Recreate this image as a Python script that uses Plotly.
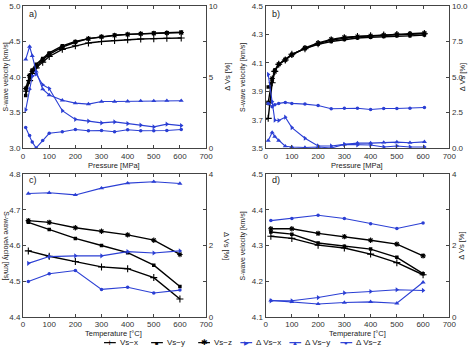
import plotly.graph_objects as go

# ---------------- data ----------------
pressure = [10, 25, 35, 50, 75, 100, 150, 200, 250, 300, 350, 400, 450, 500, 550, 605]
temperature = [20, 100, 200, 300, 400, 500, 600]

# panel a (velocities km/s, anisotropy %)
a_vsx = [3.80, 3.95, 4.05, 4.13, 4.21, 4.29, 4.39, 4.44, 4.48, 4.50, 4.515, 4.525, 4.535, 4.54, 4.545, 4.55]
a_vsy = [3.74, 4.00, 4.10, 4.18, 4.26, 4.34, 4.44, 4.50, 4.54, 4.57, 4.59, 4.60, 4.61, 4.62, 4.625, 4.63]
a_vsz = [3.84, 4.02, 4.08, 4.15, 4.24, 4.32, 4.42, 4.49, 4.54, 4.565, 4.585, 4.60, 4.61, 4.615, 4.62, 4.625]
a_dx = [2.7, 4.15, 5.06, 5.22, 4.46, 4.19, 2.64, 2.03, 1.91, 1.78, 1.85, 1.73, 1.62, 1.50, 1.69, 1.59]
a_dy = [6.24, 7.15, 6.5, 5.4, 4.15, 3.74, 3.37, 3.17, 3.10, 3.28, 3.28, 3.30, 3.32, 3.32, 3.34, 3.34]
a_dz = [1.46, 0.89, 0.43, 0.02, 0.55, 1.05, 1.16, 1.32, 1.23, 1.25, 1.16, 1.30, 1.23, 1.23, 1.25, 1.32]

# panel b
b_vsx = [3.71, 3.96, 4.04, 4.09, 4.12, 4.16, 4.20, 4.235, 4.26, 4.275, 4.285, 4.29, 4.295, 4.30, 4.30, 4.305]
b_vsy = [3.93, 3.97, 4.05, 4.09, 4.125, 4.16, 4.20, 4.23, 4.25, 4.265, 4.275, 4.28, 4.285, 4.29, 4.29, 4.295]
b_vsz = [3.82, 3.99, 4.04, 4.09, 4.12, 4.155, 4.205, 4.24, 4.265, 4.28, 4.285, 4.29, 4.295, 4.30, 4.305, 4.31]
b_dx = [5.19, 3.27, 1.97, 1.95, 2.18, 1.45, 0.70, 0.16, 0.16, 0.27, 0.23, 0.23, 0.09, 0.16, 0.09, 0.09]
b_dy = [0.54, 1.11, 0.82, 0.54, 0.14, 0.09, 0.05, 0.09, 0.02, 0.27, 0.36, 0.36, 0.41, 0.43, 0.39, 0.45]
b_dz = [3.15, 2.92, 3.05, 3.15, 3.22, 3.15, 3.10, 3.00, 2.77, 2.81, 2.81, 2.72, 2.79, 2.79, 2.81, 2.86]

# panel c
c_vsx = [4.585, 4.57, 4.555, 4.54, 4.535, 4.51, 4.45]
c_vsy = [4.665, 4.645, 4.62, 4.60, 4.58, 4.545, 4.485]
c_vsz = [4.67, 4.665, 4.65, 4.64, 4.63, 4.615, 4.575]
c_dx = [1.50, 1.69, 1.71, 1.71, 1.83, 1.79, 1.85]
c_dy = [3.46, 3.48, 3.42, 3.61, 3.75, 3.79, 3.74]
c_dz = [0.99, 1.21, 1.30, 0.77, 0.83, 0.67, 0.75]

# panel d
d_vsx = [4.326, 4.320, 4.301, 4.293, 4.276, 4.252, 4.218]
d_vsy = [4.338, 4.332, 4.307, 4.298, 4.290, 4.267, 4.221]
d_vsz = [4.347, 4.347, 4.334, 4.325, 4.315, 4.304, 4.271]
d_dx = [0.45, 0.45, 0.54, 0.67, 0.71, 0.76, 0.74]
d_dy = [0.46, 0.42, 0.36, 0.40, 0.42, 0.38, 0.97]
d_dz = [2.70, 2.76, 2.85, 2.76, 2.61, 2.48, 2.63]

names = ["Vs−x", "Vs−y", "Vs−z", "Δ Vs−x", "Δ Vs−y", "Δ Vs−z"]
glyphs = ["+", "■", "✱", "▶", "▲", "●"]

# ---------------- styling ----------------
BLACK = "#000000"
BLUE = "#2b3fd4"
FONT = "Liberation Sans, Arial, sans-serif"
W, H = 474, 353

styles = [
    dict(color=BLACK, symbol="cross-thin-open", size=5, lw=1.4),
    dict(color=BLACK, symbol="square", size=3.5, lw=1.4),
    dict(color=BLACK, symbol="asterisk-open", size=4.5, lw=1.4),
    dict(color=BLUE, symbol="triangle-right", size=4.5, lw=1.1),
    dict(color=BLUE, symbol="triangle-up", size=4.5, lw=1.1),
    dict(color=BLUE, symbol="circle", size=3.5, lw=1.1),
]

fig = go.Figure()

panels = [
    (pressure, [a_vsx, a_vsy, a_vsz], [a_dx, a_dy, a_dz], "x", "y", "y2"),
    (pressure, [b_vsx, b_vsy, b_vsz], [b_dx, b_dy, b_dz], "x2", "y3", "y4"),
    (temperature, [c_vsx, c_vsy, c_vsz], [c_dx, c_dy, c_dz], "x3", "y5", "y6"),
    (temperature, [d_vsx, d_vsy, d_vsz], [d_dx, d_dy, d_dz], "x4", "y7", "y8"),
]

for pi, (xs, vels, deltas, xa, ya, yb) in enumerate(panels):
    for k, series in enumerate(vels + deltas):
        st = styles[k]
        ax_y = ya if k < 3 else yb
        mk = dict(symbol=st["symbol"], size=st["size"], color=st["color"])
        if "open" in st["symbol"]:
            mk["line"] = dict(color=st["color"], width=1.1)
        fig.add_trace(go.Scatter(
            x=xs, y=series, xaxis=xa, yaxis=ax_y, mode="lines+markers",
            name=names[k], showlegend=False,
            line=dict(color=st["color"], width=st["lw"]),
            marker=mk,
        ))

def px_x(p):
    return p / W

def px_y(p):
    return 1 - p / H

dom_x_left = [px_x(21.5), px_x(208)]
dom_x_right = [px_x(268.7), px_x(456)]
dom_y_top = [px_y(148), px_y(2)]
dom_y_bot = [px_y(321), px_y(174.7)]

tickfont = dict(family=FONT, size=8, color="#333333")
axline = dict(showline=True, linecolor="#444444", linewidth=1, ticks="inside",
              ticklen=3, tickcolor="#444444", showgrid=False, zeroline=False,
              tickfont=tickfont)

def xaxis(dom, anchor):
    return dict(domain=dom, anchor=anchor, range=[0, 700], tickvals=list(range(0, 701, 100)),
                mirror="ticks", **axline)

def yleft(dom, anchor, rng, vals, fmt):
    return dict(domain=dom, anchor=anchor, range=rng, tickvals=vals,
                ticktext=[fmt.format(v) for v in vals], **axline)

def yright(overlay, anchor, rng, vals, texts):
    return dict(overlaying=overlay, anchor=anchor, side="right", range=rng,
                tickvals=vals, ticktext=texts, **axline)

fig.update_layout(
    width=W, height=H, margin=dict(l=0, r=0, t=0, b=0),
    paper_bgcolor="white", plot_bgcolor="white",
    font=dict(family=FONT, size=8, color="#222222"),
    showlegend=False,
    xaxis=xaxis(dom_x_left, "y"),
    yaxis=yleft(dom_y_top, "x", [3.0, 5.0], [3.0, 3.5, 4.0, 4.5, 5.0], "{:.1f}"),
    yaxis2=yright("y", "x", [0, 10], [0, 2.5, 5, 7.5, 10], ["0", "", "5", "", "10"]),
    xaxis2=xaxis(dom_x_right, "y3"),
    yaxis3=yleft(dom_y_top, "x2", [3.5, 4.5], [3.5, 3.7, 3.9, 4.1, 4.3, 4.5], "{:.1f}"),
    yaxis4=yright("y3", "x2", [0, 10], [0, 2.5, 5, 7.5, 10], ["0.0", "2.5", "5.0", "7.5", "10.0"]),
    xaxis3=xaxis(dom_x_left, "y5"),
    yaxis5=yleft(dom_y_bot, "x3", [4.4, 4.8], [4.4, 4.5, 4.6, 4.7, 4.8], "{:.1f}"),
    yaxis6=yright("y5", "x3", [0, 4], [0, 1, 2, 3, 4], ["0", "", "2", "", "4"]),
    xaxis4=xaxis(dom_x_right, "y7"),
    yaxis7=yleft(dom_y_bot, "x4", [4.1, 4.5], [4.1, 4.2, 4.3, 4.4, 4.5], "{:.1f}"),
    yaxis8=yright("y7", "x4", [0, 4], [0, 1, 2, 3, 4], ["0", "", "2", "", "4"]),
)

annots = []
shapes = []
def ann(x, y, text, angle=0, size=8, color="#222222", xanchor="center"):
    annots.append(dict(x=px_x(x), y=px_y(y), xref="paper", yref="paper", text=text,
                       showarrow=False, textangle=angle, xanchor=xanchor, yanchor="middle",
                       font=dict(family=FONT, size=size, color=color)))

# axis titles
ann(4.5, 75, "S-wave velocity [km/s]", -90, 7)
ann(229, 75, "Δ Vs [%]", -90, 7.5)
ann(245.5, 75, "S-wave velocity [km/s]", -90, 7)
ann(469, 75, "Δ Vs [%]", -90, 7.5)
ann(4.5, 248, "S-wave velocity [km/s]", 90, 7)
ann(229, 248, "Δ Vs [%]", 90, 7.5)
ann(245.5, 248, "S-wave velocity [km/s]", -90, 7)
ann(469, 248, "Δ Vs [%]", -90, 7.5)
ann(114, 166, "Pressure [MPa]", 0, 7.5)
ann(362, 166, "Pressure [MPa]", 0, 7.5)
ann(114, 338, "Temperature [°C]", 0, 7.5)
ann(362, 338, "Temperature [°C]", 0, 7.5)
# panel labels
ann(32, 10, "a)", 0, 9)
ann(279, 10, "b)", 0, 9)
ann(32, 181, "c)", 0, 9)
ann(279, 181, "d)", 0, 9)

# legend (drawn manually for compact layout)
leg_x = [104, 152, 200, 243, 293, 345]
leg_y = 347.5
glyph_sizes = [9, 6, 8, 6, 6, 6]
for k in range(6):
    col = styles[k]["color"]
    x0 = leg_x[k]
    shapes.append(dict(type="line", xref="paper", yref="paper",
                       x0=px_x(x0), x1=px_x(x0 + 12), y0=px_y(leg_y), y1=px_y(leg_y),
                       line=dict(color=col, width=1.2)))
    ann(x0 + 6, leg_y, glyphs[k], 0, glyph_sizes[k], col)
    ann(x0 + 14, leg_y, names[k], 0, 8, "#222222", "left")

fig.update_layout(annotations=annots, shapes=shapes)
fig.write_html("out.html")
